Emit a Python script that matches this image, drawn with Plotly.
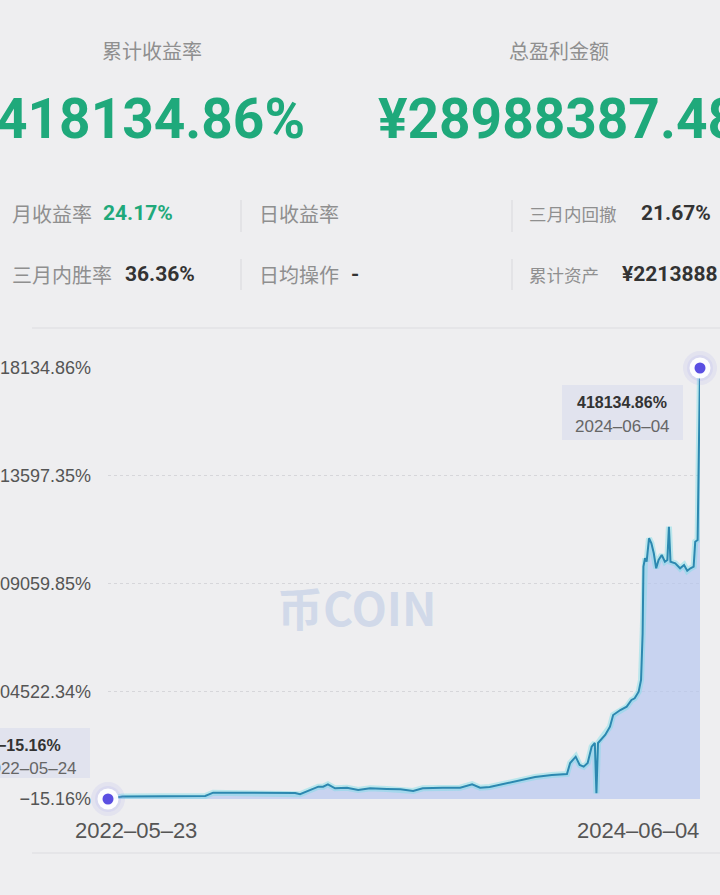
import plotly.graph_objects as go

# ---------------- data ----------------
DATES = [
    "2022-05-23", "2022-05-24", "2022-06-10", "2022-07-27", "2022-09-22", "2022-10-02",
    "2022-11-17", "2023-01-13", "2023-01-19", "2023-02-01", "2023-02-11", "2023-02-17",
    "2023-02-23", "2023-03-04", "2023-03-19", "2023-04-02", "2023-04-17", "2023-05-08",
    "2023-05-25", "2023-06-10", "2023-06-22", "2023-07-17", "2023-08-08", "2023-08-23",
    "2023-09-02", "2023-09-14", "2023-10-13", "2023-11-10", "2023-12-01", "2023-12-20",
    "2023-12-24", "2023-12-31", "2024-01-05", "2024-01-10", "2024-01-15", "2024-01-20",
    "2024-01-24", "2024-01-26", "2024-01-28", "2024-01-31", "2024-02-06", "2024-02-12",
    "2024-02-16", "2024-02-25", "2024-03-04", "2024-03-10", "2024-03-14", "2024-03-19",
    "2024-03-22", "2024-03-24", "2024-03-25", "2024-03-27", "2024-03-29", "2024-04-01",
    "2024-04-04", "2024-04-07", "2024-04-10", "2024-04-13", "2024-04-17", "2024-04-21",
    "2024-04-24", "2024-04-26", "2024-04-28", "2024-05-04", "2024-05-10", "2024-05-15",
    "2024-05-19", "2024-05-23", "2024-05-27", "2024-05-29", "2024-06-01", "2024-06-04",
]
RETURNS = [
    -15.16, -15.16, 2410, 2600, 2900, 6110,
    5810, 5810, 4550, 8720, 11930, 11930,
    14250, 10370, 10950, 8720, 10370, 9690,
    9400, 7750, 10370, 10950, 10950, 14250,
    10950, 11630, 16790, 21330, 23270, 24240,
    34910, 41030, 32970, 31320, 34910, 50730,
    54320, 5520, 54320, 57230, 62080, 70130,
    81480, 86330, 89540, 96040, 97690, 104090,
    115440, 160750, 225380, 233520, 230220, 252930,
    248080, 238380, 223820, 231880, 236730, 230220,
    231880, 264180, 230220, 228670, 223820, 227030,
    221490, 223820, 225380, 249630, 251280, 418134.86,
]
Y_TICKS = [-15.16, 104522.34, 209059.85, 313597.35, 418134.86]

HEADER_LABELS = ["累计收益率", "总盈利金额"]
HEADER_VALUES = ["418134.86%", "¥28988387.48"]
ROW1 = [("月收益率", "24.17%"), ("日收益率", ""), ("三月内回撤", "21.67%")]
ROW2 = [("三月内胜率", "36.36%"), ("日均操作", "-"), ("累计资产", "¥2213888")]

# ---------------- layout geometry ----------------
W, H = 720, 895
L, R, T, B = 108, 20, 368, 96
PW, PH = W - L - R, H - T - B
BG = "#eeeef0"
GREEN = "#1fa97b"
GREY = "#8f8f8f"
DARK = "#333333"
CJK = "Noto Sans CJK SC"
NUM = "Roboto"
SANS = "Liberation Sans"


def px(x):
    return (x - L) / PW


def py(y):
    return (H - B - y) / PH


def fmt_pct(v):
    s = f"{abs(v):.2f}%"
    return ("−" + s) if v < 0 else s


def fmt_date(d):
    return d.replace("-", "–")


fig = go.Figure()

# area fill
fig.add_trace(go.Scatter(
    x=DATES, y=RETURNS, mode="lines", fill="tozeroy",
    fillcolor="rgba(180,196,240,0.65)", line=dict(width=0), hoverinfo="skip"))
# glow
fig.add_trace(go.Scatter(
    x=DATES, y=RETURNS, mode="lines",
    line=dict(color="rgba(120,220,230,0.45)", width=6), hoverinfo="skip"))
# main line
fig.add_trace(go.Scatter(
    x=DATES, y=RETURNS, mode="lines",
    line=dict(color="#2c88b0", width=2), hoverinfo="skip"))

# end-point dots with halo
ends_x = [DATES[0], DATES[-1]]
ends_y = [RETURNS[0], RETURNS[-1]]
for size, color in [(34, "rgba(150,150,235,0.12)"), (26, "rgba(170,170,240,0.16)"),
                    (21, "rgba(255,255,255,0.95)"), (11, "#5b4fe2")]:
    fig.add_trace(go.Scatter(
        x=ends_x, y=ends_y, mode="markers", cliponaxis=False,
        marker=dict(size=size, color=color, line=dict(width=0)), hoverinfo="skip"))

shapes = []
annotations = []

# separators
for yy in (328, 853):
    shapes.append(dict(type="line", xref="paper", yref="paper", x0=px(32), x1=px(720),
                       y0=py(yy), y1=py(yy), line=dict(color="#dcdcdf", width=1.2)))
# vertical dividers
for xx in (241, 512):
    for (a, b) in ((200, 232), (259, 290)):
        shapes.append(dict(type="line", xref="paper", yref="paper", x0=px(xx), x1=px(xx),
                           y0=py(a), y1=py(b), line=dict(color="#dcdcdf", width=1.2)))

# tooltip boxes
shapes.append(dict(type="rect", xref="paper", yref="paper", x0=px(562), x1=px(683),
                   y0=py(385), y1=py(440), fillcolor="#e1e3ee", line=dict(width=0), layer="above"))
shapes.append(dict(type="rect", xref="paper", yref="paper", x0=px(-31), x1=px(90),
                   y0=py(728), y1=py(778), fillcolor="#e1e3ee", line=dict(width=0), layer="above"))


def txt(text, x, y, size, color, family, anchor="left", bold=False):
    t = f"<b>{text}</b>" if bold else text
    annotations.append(dict(text=t, x=px(x), y=py(y), xref="paper", yref="paper",
                            xanchor=anchor, yanchor="middle", showarrow=False,
                            font=dict(size=size, color=color, family=family)))


# header
txt(HEADER_LABELS[0], 152, 50, 20, GREY, CJK, "center")
txt(HEADER_LABELS[1], 559, 50, 20, GREY, CJK, "center")
txt(HEADER_VALUES[0], -6, 119, 55, GREEN, NUM, "left", True)
txt(HEADER_VALUES[1], 376, 119, 55, GREEN, NUM, "left", True)

# stats rows
row_y = [213, 274]
label_x = [10, 257, 527]
value_x = [[101, None, 639], [123, 349, 620]]
for r, row in enumerate((ROW1, ROW2)):
    for c, (lab, val) in enumerate(row):
        txt(lab, label_x[c], row_y[r], 20 if c < 2 else 17.5, GREY, CJK)
        if val:
            col = GREEN if (r == 0 and c == 0) else DARK
            txt(val, value_x[r][c], row_y[r], 21, col, NUM, "left", True)

# tooltips
txt(fmt_pct(RETURNS[-1]), 622, 402, 16, DARK, SANS, "center", True)
txt(fmt_date(DATES[-1]), 622, 426, 17, "#666666", SANS, "center")
txt(fmt_pct(RETURNS[1]), 29, 745, 16, DARK, SANS, "center", True)
txt(fmt_date(DATES[1]), 29, 768, 17, "#666666", SANS, "center")

# x labels
txt(fmt_date(DATES[0]), 73, 830, 22, "#555555", SANS, "left")
txt(fmt_date(DATES[-1]), 701, 830, 22, "#555555", SANS, "right")

# watermark
annotations.append(dict(text="<b>币COIN</b>", x=px(356), y=py(606), xref="paper", yref="paper",
                        xanchor="center", yanchor="middle", showarrow=False,
                        font=dict(size=46, color="rgba(196,208,230,0.7)", family=CJK)))

fig.update_layout(
    template="none",
    width=W, height=H,
    margin=dict(l=L, r=R, t=T, b=B, pad=0),
    paper_bgcolor=BG, plot_bgcolor=BG,
    showlegend=False,
    hovermode=False,
    shapes=shapes,
    annotations=annotations,
    xaxis=dict(type="date", range=[DATES[0], DATES[-1]], showgrid=False, zeroline=False,
               showline=False, showticklabels=False, ticks="", automargin=False, fixedrange=True),
    yaxis=dict(range=[Y_TICKS[0], Y_TICKS[-1]], tickvals=Y_TICKS,
               ticktext=[fmt_pct(v) for v in Y_TICKS], showgrid=True,
               gridcolor="#d6d6da", gridwidth=1, griddash="3px,3px", zeroline=False,
               showline=False, ticks="", ticklabelstandoff=16, automargin=False,
               tickfont=dict(size=18, color="#555555", family=SANS), fixedrange=True),
)

fig.write_html(
    "out.html",
    config={"displayModeBar": False, "staticPlot": True},
    post_script="document.body.style.margin='0';document.body.style.background='%s';" % BG,
)
